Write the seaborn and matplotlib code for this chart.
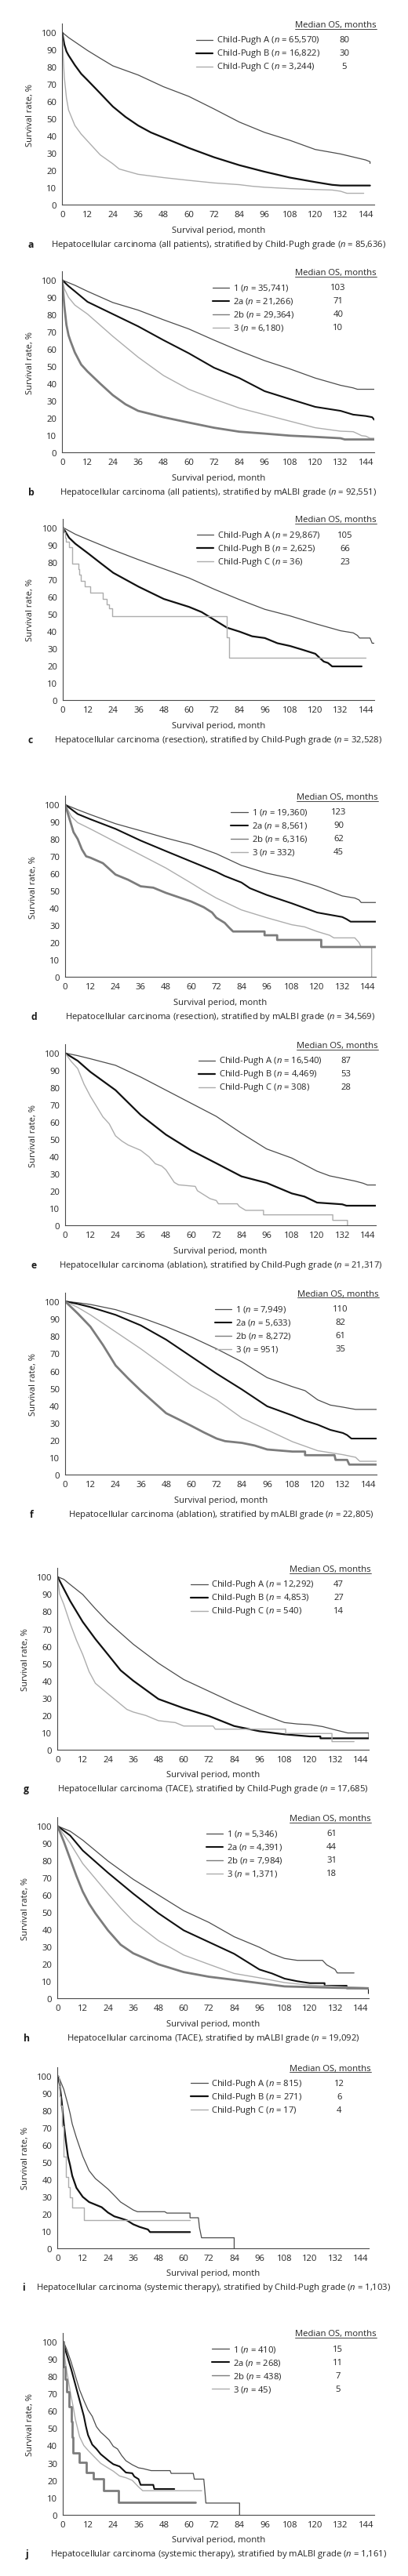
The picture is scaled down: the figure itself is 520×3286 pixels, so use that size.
import matplotlib
matplotlib.use("Agg")
import matplotlib.pyplot as plt
from matplotlib.lines import Line2D
import pandas as pd
import seaborn as sns

# ---- survival curves, (month, survival %) ----
# a: all patients, Child-Pugh
a_cpa = [(0, 100), (3, 97), (6, 94.5), (12, 89.5), (18, 85), (24, 80.6), (36, 75.3), (48, 68.5),
         (60, 62.9), (72, 55.6), (84, 48), (96, 42), (108, 37.4), (120, 32.1), (132, 29.5),
         (144, 26), (146, 25), (146, 24)]
a_cpb = [(0, 100), (1, 93), (2, 89), (3, 86.7), (6, 81), (9, 76), (12, 72.3), (18, 64.7), (24, 57),
         (30, 51), (36, 46), (42, 42), (48, 39), (60, 33), (72, 27.6), (84, 23), (96, 19.2),
         (108, 15.8), (120, 13.2), (128, 11.6), (132, 11.2), (146, 11.2)]
a_cpc = [(0, 100), (0.5, 85), (1, 74), (2, 62), (3, 55), (5, 49), (6, 46), (9, 41), (12, 37),
         (18, 29), (24, 23.8), (27, 20.8), (36, 17.7), (48, 15.8), (60, 14.2), (72, 12.7),
         (84, 11.7), (90, 10.8), (96, 10.2), (108, 9.4), (120, 8.9), (128, 8.6), (132, 7.9),
         (135, 6.7), (143, 6.7)]

# b: all patients, mALBI
b_1 = [(0, 100), (6, 97), (12, 93.5), (24, 87), (36, 82.6), (48, 77), (60, 71.7), (72, 65.2),
       (84, 59), (96, 53.3), (108, 48.5), (120, 43.2), (132, 39), (138, 37.5), (140, 36.7),
       (148, 36.7)]
b_2a = [(0, 100), (3, 96.5), (6, 93.5), (12, 87.4), (24, 80.3), (36, 73.2), (48, 65.2), (60, 57.6),
        (72, 49.2), (84, 43.2), (96, 35.6), (108, 31), (120, 26.5), (132, 24.2), (138, 22),
        (144, 21.2), (147, 20.5), (148, 19)]
b_2b = [(0, 100), (1, 95), (3, 90), (6, 85.5), (12, 80.3), (24, 67.4), (36, 55.3), (48, 44.7),
        (60, 36.7), (72, 31), (84, 25.8), (96, 22), (108, 18.2), (120, 14.4), (132, 12.4),
        (138, 12.1), (140, 11), (142, 9.8), (144, 9.5), (146, 8.3), (148, 8.3)]
b_3 = [(0, 100), (1, 85), (2, 74), (3, 68), (4, 64.4), (6, 58), (9, 51), (12, 47), (18, 40),
       (24, 33.3), (30, 28), (36, 24.2), (48, 20.5), (60, 17.4), (72, 14.4), (84, 12.1), (96, 11),
       (108, 9.8), (120, 9.1), (132, 8.3), (134, 7.6), (148, 7.6)]

# c: resection, Child-Pugh
c_cpa = [(0, 100), (6, 96), (12, 92.9), (24, 86.9), (36, 81.3), (48, 76), (60, 70.7), (72, 64.2),
         (84, 58.2), (96, 52.6), (108, 48.8), (120, 44.3), (132, 40.2), (138, 39), (140, 37.5),
         (141, 36), (146, 36), (147, 33), (148, 33)]
c_cpb = [(0, 100), (3, 94), (6, 90.5), (12, 85), (18, 79.3), (24, 73.7), (36, 65.7), (48, 58.6),
         (60, 54), (66, 51), (72, 46.5), (78, 42), (84, 39.7), (90, 37), (96, 36), (102, 33),
         (108, 31.4), (114, 29.2), (120, 26.9), (122, 24.6), (124, 22.4), (126, 21.6),
         (128, 19.6), (142, 19.6)]
c_cpc = [(0, 100), (0.5, 97), (1, 94), (1.5, 91.5), (3, 88.5), (4.5, 79), (7.5, 76), (8, 72.5),
         (8.5, 69), (10.5, 65.7), (13, 62.2), (19, 58.6), (21, 55.6), (22, 53), (23.5, 48.7),
         (78, 36.6), (79, 24.4), (144, 24.4)]

# d: resection, mALBI
d_1 = [(0, 100), (6, 97), (12, 94.2), (24, 88.9), (36, 84.8), (48, 80.6), (60, 76.8), (72, 71.5),
       (84, 64.7), (96, 60.2), (108, 57.1), (120, 52.6), (132, 47), (138, 45.8), (140, 44.7),
       (141, 43.2), (148, 43.2)]
d_2a = [(0, 100), (6, 94.5), (12, 91.5), (24, 85.9), (36, 79.1), (48, 73), (60, 67), (72, 61),
        (76, 58.6), (84, 54.8), (88, 51.5), (96, 47.6), (108, 42.7), (120, 37.4), (132, 34.8),
        (134, 33.6), (136, 32.1), (148, 32.1)]
d_2b = [(0, 100), (3, 93), (6, 89.5), (12, 85.9), (24, 78.3), (36, 70.8), (48, 63.2), (60, 54.5),
        (66, 50), (72, 45.8), (84, 38.9), (96, 34.4), (108, 30.3), (114, 29.1), (120, 26.4),
        (126, 24.2), (128, 22.7), (138, 22.7), (140, 20), (141, 17.3), (146, 17.3), (146, 0)]
d_3 = [(0, 100), (1, 96), (2, 92), (3, 88), (4, 84), (6, 80), (8, 74), (10, 70), (12, 69.2),
       (18, 66), (24, 59.4), (30, 56.4), (36, 52.6), (42, 51.8), (48, 48.8), (60, 43.8),
       (66, 40.5), (70, 37.4), (72, 34.4), (76, 31.4), (78, 28.8), (80, 26.4), (95, 26.4),
       (95, 24.2), (101, 24.2), (101, 21.5), (122, 21.5), (122, 17.4), (148, 17.4)]

# e: ablation, Child-Pugh
e_cpa = [(0, 100), (6, 98.5), (12, 96.7), (24, 92.9), (36, 86.1), (48, 78.5), (60, 70.9),
         (72, 63.3), (84, 53.5), (96, 44.4), (108, 39.1), (120, 31.5), (126, 28.8), (132, 27.3),
         (138, 25.8), (142, 24.5), (144, 23.5), (148, 23.5)]
e_cpb = [(0, 100), (6, 95.5), (12, 89.1), (24, 78.5), (36, 64.1), (48, 52.7), (60, 43.6),
         (72, 36.1), (84, 28.5), (96, 24.7), (108, 18.6), (114, 16.8), (120, 13.3), (132, 12.3),
         (134, 11.5), (148, 11.5)]
e_cpc = [(0, 100), (3, 95), (6, 91), (9, 82), (12, 75), (15, 69), (18, 63), (21, 59), (24, 52),
         (27, 49), (30, 46.7), (36, 43.6), (40, 39.8), (43, 35.8), (46, 34.5), (48, 32.3),
         (52, 25), (54, 23.6), (62, 22.7), (63, 20.2), (66, 17.9), (69, 15.6), (72, 14.5),
         (73, 12.6), (82, 12.6), (83, 11), (86, 8.8), (94.5, 8.8), (94.5, 6.2), (127.5, 6.2),
         (127.5, 3), (134.5, 3), (134.5, 0)]

# f: ablation, mALBI
f_1 = [(0, 100), (6, 99.2), (12, 98.2), (24, 95.2), (36, 90.7), (48, 85.4), (60, 79.4),
       (72, 72.6), (84, 65.1), (90, 60.5), (96, 56), (108, 50.8), (114, 48.5), (120, 43.2),
       (126, 40.2), (132, 39), (138, 37.7), (148, 37.7)]
f_2a = [(0, 100), (6, 98.5), (12, 96.7), (24, 92.2), (36, 86.1), (48, 77.9), (60, 68.1),
        (72, 58.3), (84, 49.2), (96, 39.5), (108, 34.2), (114, 31.2), (120, 28.9), (126, 25.9),
        (132, 24.1), (134, 22.9), (136, 20.9), (148, 20.9)]
f_2b = [(0, 100), (6, 96.5), (12, 92.2), (24, 82.4), (36, 72.6), (48, 62), (60, 51.5), (72, 43.2),
        (84, 32.7), (96, 25.9), (108, 19.1), (120, 13.9), (132, 11.6), (138, 10.1), (140, 7.8),
        (148, 7.8)]
f_3 = [(0, 100), (6, 93), (12, 85.4), (18, 74.8), (24, 63), (30, 55.5), (36, 48.5), (42, 42),
       (48, 35.5), (54, 31.9), (60, 28.2), (66, 24.4), (72, 20.9), (76, 19.4), (84, 18.4),
       (90, 16.9), (96, 14.6), (108, 13.4), (114, 13.4), (114, 11.3), (128, 11.3), (128.5, 8.6),
       (134, 8.6), (135, 5.9), (148, 5.9)]

# g: TACE, Child-Pugh
g_cpa = [(0, 100), (3, 98.5), (6, 95.5), (12, 89.7), (18, 81.5), (24, 73.9), (36, 61), (48, 50),
         (60, 40.6), (72, 33.8), (84, 27), (96, 21), (108, 15.7), (114, 14.9), (120, 14.5),
         (126, 13.4), (132, 11.5), (138, 9.7), (148, 9.7), (148, 7)]
g_cpb = [(0, 100), (3, 93), (6, 86), (12, 73.9), (18, 64), (24, 55), (30, 45.9), (36, 39.9),
         (48, 29.3), (60, 24), (72, 19.5), (84, 13.7), (96, 10.7), (108, 8.9), (120, 7.7),
         (125, 7.7), (125, 6.6), (148, 6.6)]
g_cpc = [(0, 100), (1, 90), (3, 84), (6, 73), (9, 63.3), (12, 55), (15, 45.2), (18, 38.4),
         (24, 32.3), (30, 26.3), (33, 23.3), (36, 21.8), (42, 19.8), (48, 16.8), (56, 15.7),
         (60, 13.7), (74, 13.7), (75, 11.9), (108.5, 11.9), (108.5, 9.4), (130.5, 9.4),
         (130.5, 4.7), (141, 4.7)]

# h: TACE, mALBI
h_1 = [(0, 100), (6, 97), (12, 91.8), (24, 79.7), (36, 69.1), (48, 60), (60, 50.9), (72, 44.1),
       (84, 35.8), (96, 29.7), (102, 25.9), (108, 23.2), (114, 22.1), (126, 22.1), (128, 19.5),
       (132, 16.8), (133, 14.8), (141, 14.8)]
h_2a = [(0, 100), (6, 94.5), (12, 85.8), (24, 72.9), (36, 60.8), (48, 49.4), (60, 39.5),
        (72, 32.7), (84, 25.9), (96, 16.8), (102, 14.5), (108, 11.5), (114, 10), (120, 8.9),
        (127, 8.9), (127, 7.4), (137.5, 7.4), (137.5, 5.9), (148, 5.9), (148, 3)]
h_2b = [(0, 100), (6, 90), (12, 78.2), (24, 60.8), (30, 52.4), (36, 44.8), (48, 33.5), (60, 25.2),
        (72, 19.8), (84, 14.5), (96, 12), (108, 9.2), (120, 7.7), (132, 7), (148, 6.2)]
h_3 = [(0, 100), (3, 91), (6, 81), (9, 71), (12, 62), (15, 55), (18, 49.4), (24, 39.5), (30, 31.2),
       (36, 26.2), (48, 19.8), (60, 15.3), (72, 12.6), (84, 10.8), (96, 8.9), (108, 7),
       (132, 6.2), (148, 5.9)]

# i: systemic therapy, Child-Pugh
i_cpa = [(0, 100), (1, 98), (3, 92), (5, 83), (6, 78), (7, 72), (9, 64), (12, 53.3), (15, 45),
         (18, 40.4), (21, 37.4), (24, 34.3), (27, 30.6), (30, 26.8), (33, 24.5), (36, 22.2),
         (38, 21.2), (51, 21.2), (52, 20.4), (63, 20.4), (63, 17.7), (67, 17.7), (67.5, 12),
         (68.5, 6.1), (84, 6.1), (84, 0)]
i_cpb = [(0, 100), (1, 95), (2, 85), (3, 72), (4, 62), (5, 53), (6, 48), (7, 42), (9, 35),
         (12, 29.8), (15, 26.8), (18, 25.3), (21, 23.8), (24, 20.7), (27, 18.5), (30, 17.4),
         (33, 16.2), (36, 13.9), (39, 12.4), (43, 10.9), (44, 9.4), (63, 9.4)]
i_cpc = [(0, 100), (0.5, 94.1), (1, 88.2), (1.5, 82.4), (2, 70.6), (3, 52.9), (4, 41.2),
         (5, 35.3), (6, 29.4), (7, 23.5), (12.5, 16.2), (63, 16.2)]

# j: systemic therapy, mALBI
j_1 = [(0, 100), (1, 98), (2, 95), (4, 88), (6, 80), (8, 72), (10, 66), (12, 60.5), (14, 56.8),
       (16, 50.8), (18, 47.7), (20, 45.5), (22, 43.2), (24, 39.5), (26, 38), (28, 34.2),
       (30, 31.2), (33, 28.9), (36, 27.1), (38, 26.7), (42, 25.5), (51, 25.5), (51.5, 23.9),
       (62, 23.9), (62.5, 20.6), (67, 20.6), (67.5, 13.9), (68, 6.8), (84, 6.8), (84, 0)]
j_2a = [(0, 100), (1, 96), (2, 92), (4, 84), (6, 75), (8, 66), (10, 57), (11, 51), (12, 46),
        (14, 40.5), (16, 38), (18, 35), (20, 33), (22, 31), (24, 29.2), (27, 27.9), (30, 24.4),
        (33, 24), (34, 22.1), (36, 20.6), (37, 17.3), (43, 17.3), (43.5, 14.9), (53, 14.9)]
j_2b = [(0, 100), (1, 90), (2, 82), (3, 75), (4, 68), (5, 62), (6, 55), (7, 50), (8, 45), (10, 40),
        (12, 37.2), (15, 33.4), (18, 29.7), (21, 27.4), (24, 25.2), (27, 22.4), (30, 21.4),
        (33, 19.9), (36, 16.1), (38, 13.9), (66, 13.9)]
j_3 = [(0, 100), (0.5, 85.4), (1, 78), (2, 71), (3, 62.4), (4, 53.8), (4.5, 44.8), (5, 35.5),
       (8, 30.1), (11, 24.4), (14.5, 20.6), (19.5, 13.9), (26.5, 7.1), (63, 7.1)]

# ---- legend text ----
cp_groups = ["A", "B", "C"]
albi_groups = ["1", "2a", "2b", "3"]

a_n, a_med = ["65,570", "16,822", "3,244"], [80, 30, 5]
b_n, b_med = ["35,741", "21,266", "29,364", "6,180"], [103, 71, 40, 10]
c_n, c_med = ["29,867", "2,625", "36"], [105, 66, 23]
d_n, d_med = ["19,360", "8,561", "6,316", "332"], [123, 90, 62, 45]
e_n, e_med = ["16,540", "4,469", "308"], [87, 53, 28]
f_n, f_med = ["7,949", "5,633", "8,272", "951"], [110, 82, 61, 35]
g_n, g_med = ["12,292", "4,853", "540"], [47, 27, 14]
h_n, h_med = ["5,346", "4,391", "7,984", "1,371"], [61, 44, 31, 18]
i_n, i_med = ["815", "271", "17"], [12, 6, 4]
j_n, j_med = ["410", "268", "438", "45"], [15, 11, 7, 5]

captions = [
    "Hepatocellular carcinoma (all patients), stratified by Child-Pugh grade ($n$ = 85,636)",
    "Hepatocellular carcinoma (all patients), stratified by mALBI grade ($n$ = 92,551)",
    "Hepatocellular carcinoma (resection), stratified by Child-Pugh grade ($n$ = 32,528)",
    "Hepatocellular carcinoma (resection), stratified by mALBI grade ($n$ = 34,569)",
    "Hepatocellular carcinoma (ablation), stratified by Child-Pugh grade ($n$ = 21,317)",
    "Hepatocellular carcinoma (ablation), stratified by mALBI grade ($n$ = 22,805)",
    "Hepatocellular carcinoma (TACE), stratified by Child-Pugh grade ($n$ = 17,685)",
    "Hepatocellular carcinoma (TACE), stratified by mALBI grade ($n$ = 19,092)",
    "Hepatocellular carcinoma (systemic therapy), stratified by Child-Pugh grade ($n$ = 1,103)",
    "Hepatocellular carcinoma (systemic therapy), stratified by mALBI grade ($n$ = 1,161)",
]
letters = list("abcdefghij")

# ---- styles ----
DARK, BLACK, MID, LIGHT = "#4c4c4c", "#111111", "#7c7c7c", "#adadad"
cp_curve = [(DARK, 0.9), (BLACK, 1.6), (LIGHT, 1.0)]
cp_key = cp_curve
albi_curve = [(DARK, 0.9), (BLACK, 1.5), (LIGHT, 1.0), (MID, 2.0)]
albi_key = [(DARK, 0.9), (BLACK, 1.5), (MID, 1.0), (LIGHT, 1.0)]

# layout in pixels: axes left, right, y of 0 %, y of 100 %; legend x positions in months
panels = [
    dict(series=[a_cpa, a_cpb, a_cpc], steps=[0, 0, 0], n=a_n, med=a_med, kind="cp",
         box=(79.3, 477, 262.3, 42.3), key=(63.4, 71.4, 73.2, 133.7), letter_x=35),
    dict(series=[b_1, b_2a, b_2b, b_3], steps=[0, 0, 0, 0], n=b_n, med=b_med, kind="albi",
         box=(79.3, 477, 578.3, 358.3), key=(71.2, 79.2, 80.9, 130.8), letter_x=36),
    dict(series=[c_cpa, c_cpb, c_cpc], steps=[0, 0, 1], n=c_n, med=c_med, kind="cp",
         box=(80, 477, 894.3, 673.7), key=(63.7, 71.5, 73.4, 134), letter_x=35),
    dict(series=[d_1, d_2a, d_2b, d_3], steps=[0, 0, 0, 0], n=d_n, med=d_med, kind="albi",
         box=(83, 479, 1247.3, 1027.3), key=(79, 87.1, 88.9, 130.3), letter_x=40),
    dict(series=[e_cpa, e_cpb, e_cpc], steps=[0, 0, 0], n=e_n, med=e_med, kind="cp",
         box=(83, 479, 1564.3, 1344.3), key=(63.4, 71.5, 73.2, 133.8), letter_x=39),
    dict(series=[f_1, f_2a, f_2b, f_3], steps=[0, 0, 0, 0], n=f_n, med=f_med, kind="albi",
         box=(83, 480, 1882.3, 1661), key=(71.1, 79.2, 80.9, 130.7), letter_x=38),
    dict(series=[g_cpa, g_cpb, g_cpc], steps=[0, 0, 0], n=g_n, med=g_med, kind="cp",
         box=(73.3, 470, 2233, 2012.3), key=(63.4, 71.5, 73.1, 133.7), letter_x=30),
    dict(series=[h_1, h_2a, h_2b, h_3], steps=[0, 0, 0, 0], n=h_n, med=h_med, kind="albi",
         box=(73.3, 470, 2550.3, 2330.3), key=(70.7, 78.7, 80.4, 130.3), letter_x=30),
    dict(series=[i_cpa, i_cpb, i_cpc], steps=[0, 0, 1], n=i_n, med=i_med, kind="cp",
         box=(73.3, 470, 2869, 2648.7), key=(63.4, 71.5, 73.1, 134), letter_x=28),
    dict(series=[j_1, j_2a, j_2b, j_3], steps=[0, 0, 0, 1], n=j_n, med=j_med, kind="albi",
         box=(80, 477, 3209, 2987.7), key=(70.9, 79, 80.9, 130.6), letter_x=33),
]

sns.set_style("white")
plt.rcParams["font.family"] = ["Open Sans", "DejaVu Sans"]
plt.rcParams["mathtext.fontset"] = "custom"
plt.rcParams["mathtext.rm"] = "Open Sans"
plt.rcParams["mathtext.it"] = "Open Sans:italic"
TEXT = "#262626"
plt.rcParams["text.color"] = TEXT

FS = 8.1
SPINE = "#4a4a4a"
W, H = 520, 3287
fig = plt.figure(figsize=(W / 100, H / 100), dpi=100)

headers = []
for p, cap, letter in zip(panels, captions, letters):
    left, right, y0, y100 = p["box"]
    per = (y0 - y100) / 100
    axh = 105 * per
    axw = right - left
    ax = fig.add_axes([left / W, 1 - y0 / H, axw / W, axh / H])

    curve_style = cp_curve if p["kind"] == "cp" else albi_curve
    key_style = cp_key if p["kind"] == "cp" else albi_key
    groups = cp_groups if p["kind"] == "cp" else albi_groups

    for pts, (col, lw), st in zip(p["series"], curve_style, p["steps"]):
        df = pd.DataFrame(pts, columns=["month", "surv"])
        sns.lineplot(data=df, x="month", y="surv", ax=ax, sort=False, estimator=None,
                     color=col, linewidth=lw, drawstyle="steps-post" if st else "default")

    ax.set_xlim(0, 148)
    ax.set_ylim(0, 105)
    ax.set_xticks(range(0, 145, 12))
    ax.set_yticks(range(0, 101, 10))
    sns.despine(ax=ax)
    for s in ("left", "bottom"):
        ax.spines[s].set_color(SPINE)
        ax.spines[s].set_linewidth(0.8)
    ax.tick_params(direction="out", length=2.5, width=0.7, color=SPINE,
                   labelsize=FS, labelcolor=TEXT, pad=2.5)

    ax.set_xlabel("Survival period, month", fontsize=FS, color=TEXT)
    ax.xaxis.set_label_coords(0.5, -32 / axh)
    ax.xaxis.label.set_va("center")
    ax.set_ylabel("Survival rate, %", fontsize=FS, color=TEXT)
    ax.yaxis.set_label_coords(-41 / axw, 0.5)
    ax.yaxis.label.set_va("center")

    # legend with median column
    lx0, lx1, tx, mx = p["key"]
    hdr = ax.text(1 + 3 / axw, 104.4, "Median OS, months", transform=ax.get_yaxis_transform(),
                  ha="right", va="center", fontsize=FS, clip_on=False)
    headers.append(hdr)
    for k, (g, n, m, (col, lw)) in enumerate(zip(groups, p["n"], p["med"], key_style)):
        yy = 95.7 - 7.7 * k
        ax.add_line(Line2D([lx0, lx1], [yy, yy], color=col, linewidth=lw, clip_on=False))
        label = f"Child-Pugh {g} ($n$ = {n})" if p["kind"] == "cp" else f"{g} ($n$ = {n})"
        ax.text(tx, yy, label, ha="left", va="center", fontsize=FS)
        ax.text(mx, yy, str(m), ha="center", va="center", fontsize=FS)

    ax.text(0.5, -50 / axh, cap, transform=ax.transAxes, ha="center", va="center", fontsize=FS)
    fig.text(p["letter_x"] / W, 1 - (y0 + 50) / H, letter,
             ha="left", va="center", fontsize=FS + 0.6, fontweight="bold", color="#1a1a1a")

# underline the "Median OS, months" headers
fig.canvas.draw()
renderer = fig.canvas.get_renderer()
for hdr in headers:
    bb = hdr.get_window_extent(renderer)
    yl = (bb.y0 + 0.5) / H
    fig.add_artist(Line2D([bb.x0 / W, bb.x1 / W], [yl, yl], color=TEXT, linewidth=0.6))

fig.savefig("out.png", dpi=100)
